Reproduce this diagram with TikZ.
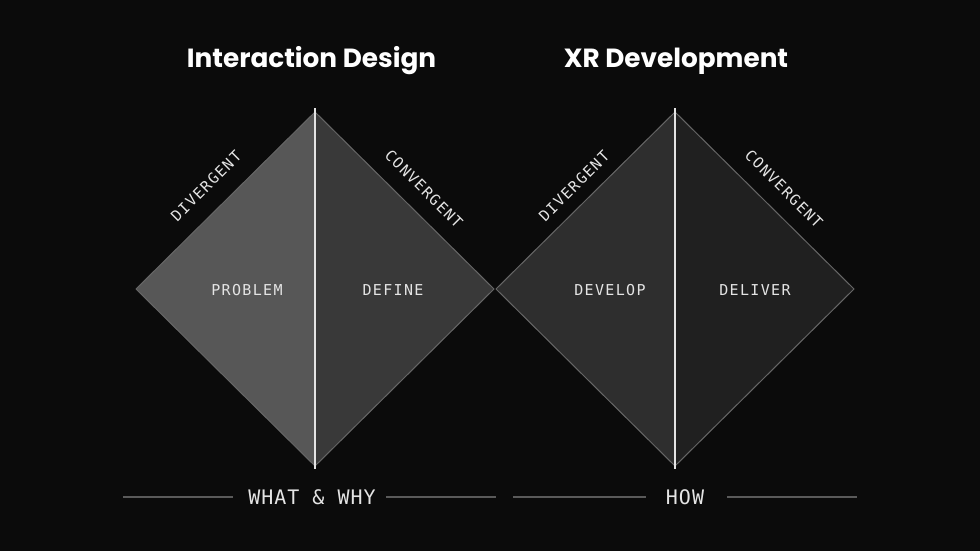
\documentclass[tikz,border=0pt]{standalone}
\usepackage{fontspec}
\newfontfamily\headfont[Ligatures=NoCommon]{Poppins}
\newfontfamily\phasefont[LetterSpace=9]{DejaVu Sans Mono}
\newfontfamily\stagefont[LetterSpace=5]{DejaVu Sans Mono}
\usetikzlibrary{calc,positioning}

\definecolor{bg}{HTML}{0B0B0B}
\definecolor{div-light}{HTML}{575757}
\definecolor{conv-light}{HTML}{393939}
\definecolor{div-dark}{HTML}{2E2E2E}
\definecolor{conv-dark}{HTML}{202020}
\definecolor{edge}{HTML}{666666}
\definecolor{rule}{HTML}{5A5A5A}
\definecolor{ink}{HTML}{E4E4E4}

\tikzset{
	head/.style={font=\headfont\bfseries\fontsize{26.3}{26.3}\selectfont,text=white,inner sep=0pt,anchor=base},
	phase/.style={font=\phasefont\fontsize{15}{15}\selectfont,text=ink,inner sep=0pt},
	stage/.style={font=\stagefont\fontsize{20}{20}\selectfont,text=ink,inner sep=0pt},
	outline/.style={draw=edge,line width=1pt,line join=round},
	axis/.style={draw=ink,line width=1.6pt},
	stagerule/.style={draw=rule,line width=1.5pt}
}

\begin{document}
\begin{tikzpicture}[x=1pt,y=-1pt]
	
	\fill [bg] (0,0) rectangle (980,551);
	\useasboundingbox (0,0) rectangle (980,551);
	
	%%%%%%%%%%%%%%%%%%%%%%%%%%%%%%%%%%%%%%%%%%%%%%%%%%%%%%
	
	\coordinate (id-left) at (136,289);
	\coordinate (id-top) at (315,112);
	\coordinate (id-right) at (494,289);
	\coordinate (id-bottom) at (315,466);
	
	\fill [div-light] (id-left) -- (id-top) -- (id-bottom) -- cycle;
	\fill [conv-light] (id-top) -- (id-right) -- (id-bottom) -- cycle;
	\draw [outline] (id-left) -- (id-top) -- (id-right) -- (id-bottom) -- cycle;
	\draw [axis] ($(id-top)+(0,-4)$) -- ($(id-bottom)+(0,3)$);
	
	\node [head] (id-title) at (311.5,67) {Interaction Design};
	
	\node [phase,rotate=45] (id-divergent) at (206,186) {DIVERGENT};
	\node [phase,rotate=-45] (id-convergent) at (424,189) {CONVERGENT};
	
	\node [phase] (problem) at (247,290) {PROBLEM};
	\node [phase] (define) at (393,290) {DEFINE};
	
	%%%%%%%%%%%%%%%%%%%%%%%%%%%%%%%%%%%%%%%%%%%%%%%%%%%%%%
	
	\coordinate (xr-left) at (496,289);
	\coordinate (xr-top) at (675,112);
	\coordinate (xr-right) at (854,289);
	\coordinate (xr-bottom) at (675,466);
	
	\fill [div-dark] (xr-left) -- (xr-top) -- (xr-bottom) -- cycle;
	\fill [conv-dark] (xr-top) -- (xr-right) -- (xr-bottom) -- cycle;
	\draw [outline] (xr-left) -- (xr-top) -- (xr-right) -- (xr-bottom) -- cycle;
	\draw [axis] ($(xr-top)+(0,-4)$) -- ($(xr-bottom)+(0,3)$);
	
	\node [head] (xr-title) at (676,67) {XR Development};
	
	\node [phase,rotate=45] (xr-divergent) at (574,186) {DIVERGENT};
	\node [phase,rotate=-45] (xr-convergent) at (784,189) {CONVERGENT};
	
	\node [phase] (develop) at (610,290) {DEVELOP};
	\node [phase] (deliver) at (755,290) {DELIVER};
	
	%%%%%%%%%%%%%%%%%%%%%%%%%%%%%%%%%%%%%%%%%%%%%%%%%%%%%%
	
	\node [stage] (what-why) at (312,497) {WHAT \& WHY};
	\coordinate (what-rule-a) at (123,497);
	\coordinate (what-rule-b) at (233,497);
	\coordinate (what-rule-c) at (386,497);
	\coordinate (what-rule-d) at (496,497);
	\draw [stagerule] (what-rule-a) -- (what-rule-b);
	\draw [stagerule] (what-rule-c) -- (what-rule-d);
	
	\node [stage] (how) at (685,497) {HOW};
	\coordinate (how-rule-a) at (513,497);
	\coordinate (how-rule-b) at (646,497);
	\coordinate (how-rule-c) at (727,497);
	\coordinate (how-rule-d) at (857,497);
	\draw [stagerule] (how-rule-a) -- (how-rule-b);
	\draw [stagerule] (how-rule-c) -- (how-rule-d);
	
	%%%%%%%%%%%%%%%%%%%%%%%%%%%%%%%%%%%%%%%%%%%%%%%%%%%%%%
	
\end{tikzpicture}
\end{document}
